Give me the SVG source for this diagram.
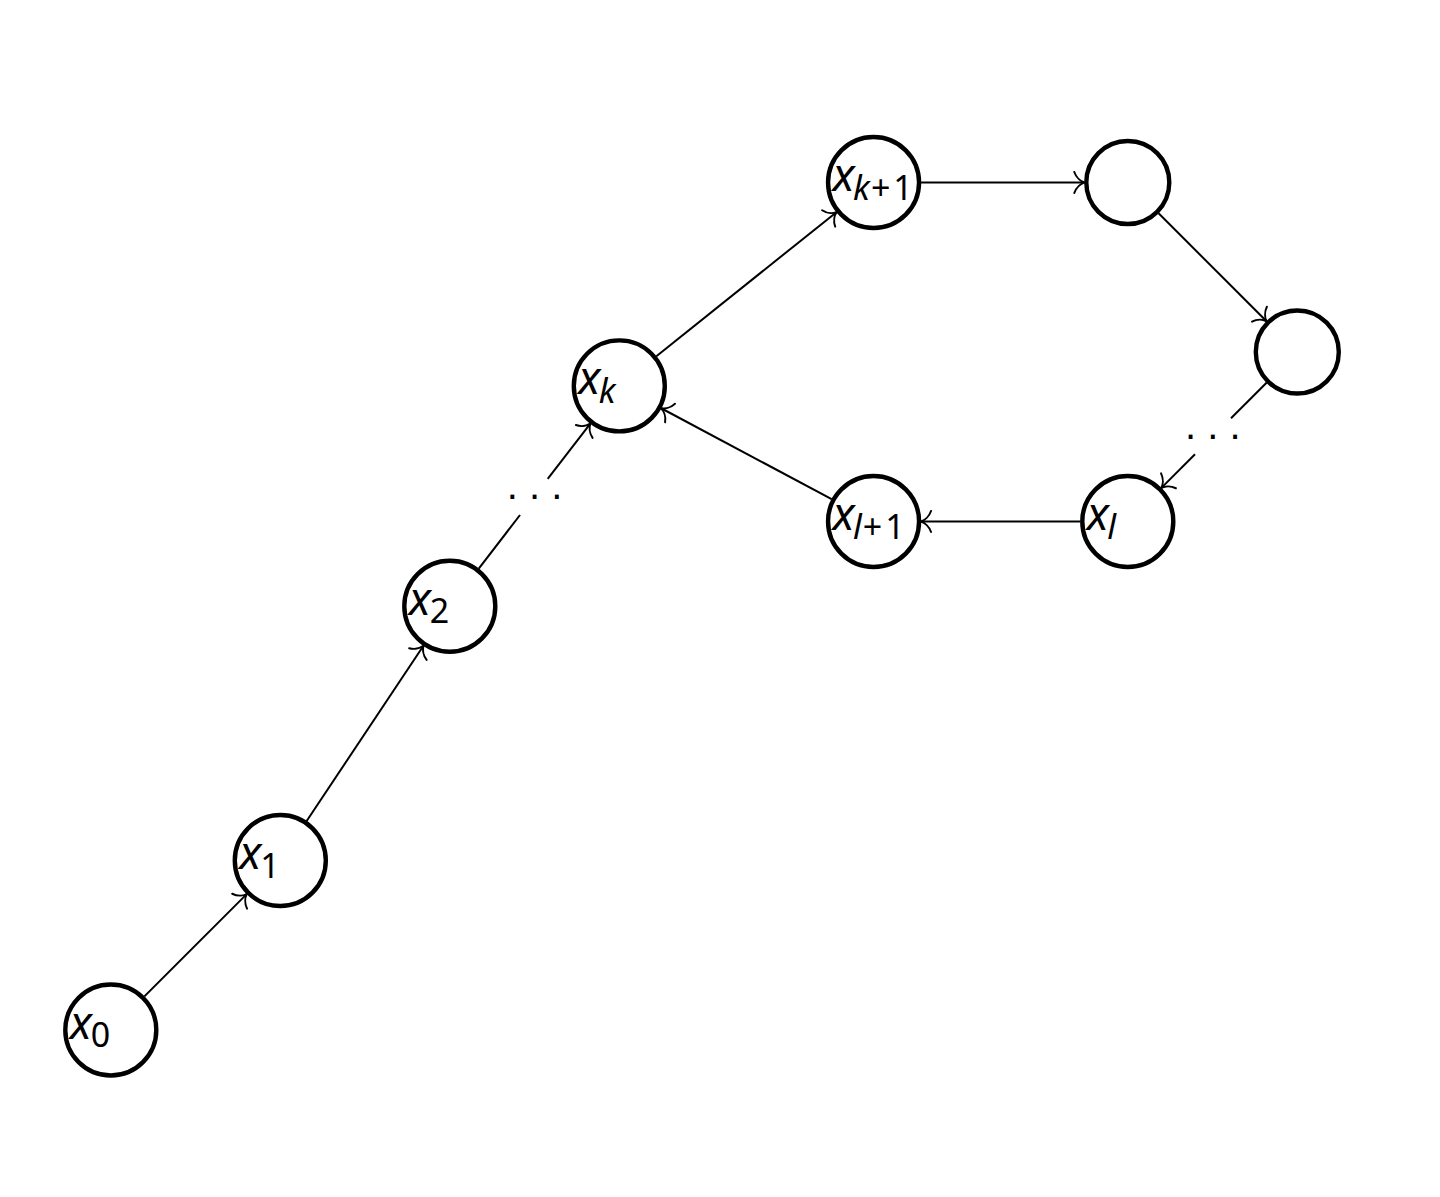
<svg xmlns="http://www.w3.org/2000/svg" width="1440" height="1197" viewBox="0 0 1440 1197">
<style>
.node circle{fill:#fff;stroke:#000;stroke-width:4.4}
.edge{stroke:#000;stroke-width:2;fill:none}
.lbl{font-family:"Noto Sans","DejaVu Sans",sans-serif;fill:#000}
.v{font-size:46px;font-style:italic}
.si{font-size:34px;font-style:italic}
.sr{font-size:34px;font-style:normal}
.dots{font-family:"Liberation Sans",Arial,sans-serif;font-size:40px;fill:#000}
</style>
<defs>
<marker id="arr" markerUnits="userSpaceOnUse" viewBox="-12 -12 14 24" markerWidth="14" markerHeight="24" refX="0" refY="0" orient="auto">
<path d="M -10,-10.5 C -8,-4.5 -3,-1 0,0 C -3,1 -8,4.5 -10,10.5" fill="none" stroke="#000" stroke-width="2" stroke-linecap="round" stroke-linejoin="round"/>
</marker>
</defs>
<rect width="1440" height="1197" fill="#fff"/>
<g id="connectors">
<line class="edge" x1="144.4" y1="996.4" x2="246.7" y2="894.1" marker-end="url(#arr)"/>
<line class="edge" x1="306.65" y1="820.98" x2="423.45" y2="645.77" marker-end="url(#arr)"/>
<line class="edge" x1="478.76" y1="568.6" x2="520" y2="515.0"/>
<line class="edge" x1="547.7" y1="478.9" x2="590.34" y2="423.55" marker-end="url(#arr)"/>
<text class="dots" x="534.5" y="498.5" text-anchor="middle">. . .</text>
<line class="edge" x1="656.39" y1="356.23" x2="836.46" y2="212.17" marker-end="url(#arr)"/>
<line class="edge" x1="921.05" y1="182.5" x2="1084.3" y2="182.5" marker-end="url(#arr)"/>
<line class="edge" x1="1158.56" y1="213.26" x2="1266.54" y2="321.24" marker-end="url(#arr)"/>
<line class="edge" x1="1266.54" y1="382.76" x2="1231" y2="418.3"/>
<line class="edge" x1="1195" y1="454.3" x2="1161.39" y2="487.91" marker-end="url(#arr)"/>
<text class="dots" x="1212.8" y="438.5" text-anchor="middle">. . .</text>
<line class="edge" x1="1080.3" y1="521.5" x2="921.05" y2="521.5" marker-end="url(#arr)"/>
<line class="edge" x1="831.64" y1="499.15" x2="661.21" y2="408.25" marker-end="url(#arr)"/>
</g>
<g id="n-x0" class="node"><circle cx="110.8" cy="1030" r="45.5"/>
<text class="lbl"><tspan class="v" x="69.8" y="1038.5">x</tspan><tspan class="sr" x="90.8" y="1047">0</tspan></text></g>
<g id="n-x1" class="node"><circle cx="280.3" cy="860.5" r="45.5"/>
<text class="lbl"><tspan class="v" x="239.3" y="869">x</tspan><tspan class="sr" x="260.3" y="877.5">1</tspan></text></g>
<g id="n-x2" class="node"><circle cx="449.8" cy="606.25" r="45.5"/>
<text class="lbl"><tspan class="v" x="408.8" y="614.75">x</tspan><tspan class="sr" x="429.8" y="623.25">2</tspan></text></g>
<g id="n-xk" class="node"><circle cx="619.3" cy="385.9" r="45.5"/>
<text class="lbl"><tspan class="v" x="578.3" y="394.4">x</tspan><tspan class="si" x="598.8" y="402.9">k</tspan></text></g>
<g id="n-xk1" class="node"><circle cx="873.55" cy="182.5" r="45.5"/>
<text class="lbl"><tspan class="v" x="832.55" y="191">x</tspan><tspan class="si" x="853.05" y="199.5">k</tspan><tspan class="sr" dx="1">+</tspan><tspan class="sr" dx="3">1</tspan></text></g>
<g id="n-a" class="node"><circle cx="1127.8" cy="182.5" r="41.5"/></g>
<g id="n-b" class="node"><circle cx="1297.3" cy="352" r="41.5"/></g>
<g id="n-xl" class="node"><circle cx="1127.8" cy="521.5" r="45.5"/>
<text class="lbl"><tspan class="v" x="1086.8" y="530">x</tspan><tspan class="si" x="1107.3" y="538.5">l</tspan></text></g>
<g id="n-xl1" class="node"><circle cx="873.55" cy="521.5" r="45.5"/>
<text class="lbl"><tspan class="v" x="832.55" y="530">x</tspan><tspan class="si" x="853.05" y="538.5">l</tspan><tspan class="sr" dx="1">+</tspan><tspan class="sr" dx="3">1</tspan></text></g>
</svg>
